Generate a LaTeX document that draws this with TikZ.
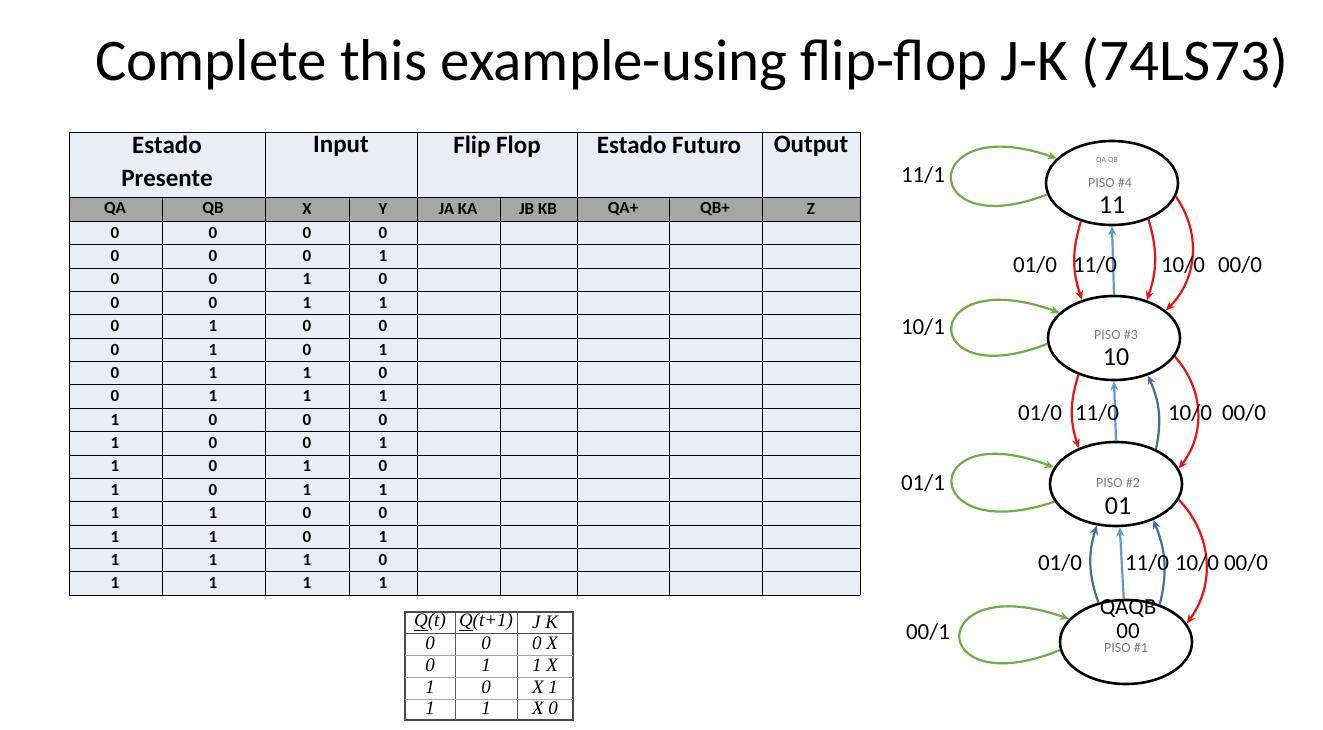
\documentclass[tikz,border=0pt]{standalone}
\usepackage{fontspec}
\setmainfont{Carlito}
\newfontfamily\tms{Liberation Serif}
\usetikzlibrary{shapes.geometric,arrows.meta}
\definecolor{cellbg}{HTML}{E9EDF4}
\definecolor{hdrgray}{HTML}{A6A6A6}
\definecolor{lgreen}{HTML}{70AD47}
\definecolor{lblue}{HTML}{5B9BD5}
\definecolor{sblue}{HTML}{41719C}
\definecolor{sred}{HTML}{EE1111}
\begin{document}
\begin{tikzpicture}[x=1pt,y=-1pt,
  st/.style={draw,line width=2.6pt,ellipse,minimum width=132pt,minimum height=84pt,inner sep=0pt},
  tr/.style={line width=2.2pt,-{Stealth[length=9pt,width=8pt]}},
  lp/.style={tr,lgreen},
  lbl/.style={font=\fontsize{23}{23}\selectfont},
  big/.style={font=\fontsize{26}{26}\selectfont},
  small/.style={font=\fontsize{14}{14}\selectfont,text=gray},
  cell/.style={font=\bfseries\fontsize{17}{17}\selectfont}]
\useasboundingbox (0,0) rectangle (1323,730);
\fill[white] (0,0) rectangle (1323,730);
\node[font=\fontsize{59}{59}\selectfont] (title) at (692,64) {Complete this example-using flip-flop J-K (74LS73)};
% main table
\fill[cellbg] (69,132) rectangle (860,595);
\fill[hdrgray] (69,197) rectangle (860,221);
\foreach \x in {69,265,417,577,762,860} \draw (\x,132) -- (\x,595);
\foreach \x in {162,349,500,669} \draw (\x,197) -- (\x,595);
\draw (69,132) -- (860,132);
\draw (69,197) -- (860,197);
\foreach \r in {0,...,16} \draw (69,221+23.375*\r) -- (860,221+23.375*\r);
\tikzset{hd/.style={font=\bfseries\fontsize{25}{33}\selectfont,anchor=north,inner sep=0pt}}
\node[hd,align=center] (h1) at (167,136) {Estado\\Presente};
\node[hd] (h2) at (341,136) {Input};
\node[hd] (h3) at (497,136) {Flip Flop};
\node[hd] (h4) at (669,136) {Estado Futuro};
\node[hd] (h5) at (811,136) {Output};
\foreach \t/\x in {QA/115,QB/213,X/307,Y/383,JA KA/458,JB KB/538,QA+/623,QB+/715,Z/811}
  \node[cell] (c\t) at (\x,209) {\t};
\foreach \i in {0,...,15}{
  \pgfmathtruncatemacro\a{int(\i/8)}
  \pgfmathtruncatemacro\b{mod(int(\i/4),2)}
  \pgfmathtruncatemacro\c{mod(int(\i/2),2)}
  \pgfmathtruncatemacro\d{mod(\i,2)}
  \pgfmathsetmacro\yy{232.7+23.375*\i}
  \node[cell] (ra\i) at (115,\yy) {\a};
  \node[cell] (rb\i) at (213,\yy) {\b};
  \node[cell] (rc\i) at (307,\yy) {\c};
  \node[cell] (rd\i) at (383,\yy) {\d};
}
% small table
\draw[line width=1.2pt,gray!60!black] (405,612) rectangle (573,720);
\foreach \x in {455,517} \draw[line width=1pt,gray!70!black] (\x,612) -- (\x,720);
\foreach \y in {655,677,699} \draw[gray!70] (405,\y) -- (573,\y);
\draw[line width=1pt,gray!60!black] (405,633) -- (573,633);
\tikzset{kt/.style={font=\tms\itshape\fontsize{19}{19}\selectfont}}
\node[kt] (k1) at (430,622) {\underline{Q}(t)};
\node[kt] (k2) at (486,622) {\underline{Q}(t+1)};
\node[kt] (k3) at (545,622) {J K};
\foreach \p/\q/\jk [count=\n] in {0/0/0 X,0/1/1 X,1/0/X 1,1/1/X 0}{
  \node[kt] (ka\n) at (430,622+21.6*\n) {\p};
  \node[kt] (kb\n) at (486,622+21.6*\n) {\q};
  \node[kt] (kc\n) at (545,622+21.6*\n) {\jk};
}
% states
\node[st] (s4) at (1112,183) {};
\node[st] (s3) at (1114,338) {};
\node[st] (s2) at (1116,484) {};
\node[st] (s1) at (1126,642) {};
\node[small,font=\fontsize{8}{8}\selectfont] (t4a) at (1107,160) {QA QB};
\node[small] (t4b) at (1110,183) {PISO \#4};
\node[big] (t4c) at (1112,205) {11};
\node[small] (t3b) at (1116,335) {PISO \#3};
\node[big] (t3c) at (1116,357) {10};
\node[small] (t2b) at (1118,483) {PISO \#2};
\node[big] (t2c) at (1118,506) {01};
\node[lbl] (t1a) at (1128,609) {QAQB};
\node[lbl] (t1c) at (1128,631) {00};
\node[small] (t1b) at (1126,648) {PISO \#1};
% loops
\draw[lp] (s4.190) .. controls (918,245) and (918,110) .. (s4.156);
\draw[lp] (s3.185) .. controls (918,395) and (918,262) .. (s3.155);
\draw[lp] (s2.196) .. controls (918,548) and (918,415) .. (s2.165);
\draw[lp] (s1.187) .. controls (925,705) and (925,568) .. (s1.158);
\node[lbl] (l4) at (923,175) {11/1};
\node[lbl] (l3) at (923,327) {10/1};
\node[lbl] (l2) at (923,483) {01/1};
\node[lbl] (l1) at (928,632) {00/1};
% transitions
\draw[tr,sred] (s4.231) to[bend right=18] (s3.130);
\draw[tr,sred] (s4.315) to[bend left=18] (s3.49);
\draw[tr,sred] (s4.348) to[bend left=40] (s3.28);
\draw[tr,lblue] (s3.north) -- (s4.south);
\draw[tr,sred] (s3.226) to[bend right=18] (s2.136);
\draw[tr,lblue] (s2.north) -- (s3.south);
\draw[tr,sblue] (s2.41) to[bend right=18] (s3.312);
\draw[tr,sred] (s3.343) to[bend left=40] (s2.14);
\draw[tr,sblue] (s1.125) to[bend left=18] (s2.245);
\draw[tr,lblue] (s1.93) -- (s2.275);
\draw[tr,sblue] (s1.48) to[bend right=18] (s2.316);
\draw[tr,sred] (s2.346) to[bend left=40] (s1.17);
\node[lbl] (a1) at (1035,265) {01/0};
\node[lbl] (a2) at (1095,265) {11/0};
\node[lbl] (a3) at (1183,265) {10/0};
\node[lbl] (a4) at (1240,265) {00/0};
\node[lbl] (b1) at (1040,413) {01/0};
\node[lbl] (b2) at (1097,413) {11/0};
\node[lbl] (b3) at (1190,413) {10/0};
\node[lbl] (b4) at (1244,413) {00/0};
\node[lbl] (d1) at (1060,563) {01/0};
\node[lbl] (d2) at (1147,563) {11/0};
\node[lbl] (d3) at (1197,563) {10/0};
\node[lbl] (d4) at (1246,563) {00/0};
\end{tikzpicture}
\end{document}
